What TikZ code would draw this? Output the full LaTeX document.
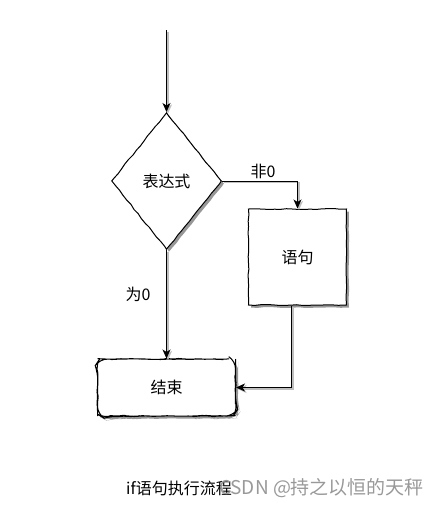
\documentclass[tikz,border=0pt]{standalone}
\usepackage{fontspec}
\setmainfont{Noto Sans CJK SC}
\usetikzlibrary{shapes.geometric,arrows.meta,shadows,decorations.pathmorphing}
\begin{document}
\begin{tikzpicture}[x=1pt,y=-1pt,
  every node/.style={font=\fontsize{16}{19}\selectfont},
  box/.style={draw=black, line width=1pt, fill=white, inner sep=0pt,
     decorate, decoration={random steps, segment length=6pt, amplitude=0.45pt},
     drop shadow={shadow xshift=2.5pt, shadow yshift=-2.5pt, fill=black!45, opacity=0.9}},
  arr/.style={line width=1pt, -{Stealth[length=9pt,width=8pt,inset=2.5pt]},
     preaction={draw=black!25, line width=1.6pt, transform canvas={shift={(1.5pt,-1.5pt)}}}},
  lbl/.style={inner sep=1pt}
]
\pgfmathsetseed{7}
\useasboundingbox (0,0) rectangle (438,507);
\node[box, diamond, minimum width=110pt, minimum height=137pt] (d) at (166.5,181) {表达式};
\node[box, minimum width=98pt, minimum height=96pt] (s) at (297.5,257) {语句};
\node[box, rounded corners=8pt, minimum width=138pt, minimum height=57pt] (e) at (166.5,387.5) {结束};
\coordinate (start) at (166.5,30);
\draw[arr] (start) -- (d.north);
\draw[arr] (d.east) -| (s.north);
\draw[arr] (d.south) -- (d.south |- e.north);
\draw[arr] ([xshift=-6pt]s.south) |- (e.east);
\node[lbl] (l1) at (263,171) {非0};
\node[lbl] (l2) at (138,294) {为0};
\node (cap) at (179,488) {if语句执行流程};
\node[text=black!40, font=\fontsize{19}{22}\selectfont] (wm) at (321.5,488) {CSDN @持之以恒的天秤};
\end{tikzpicture}
\end{document}
